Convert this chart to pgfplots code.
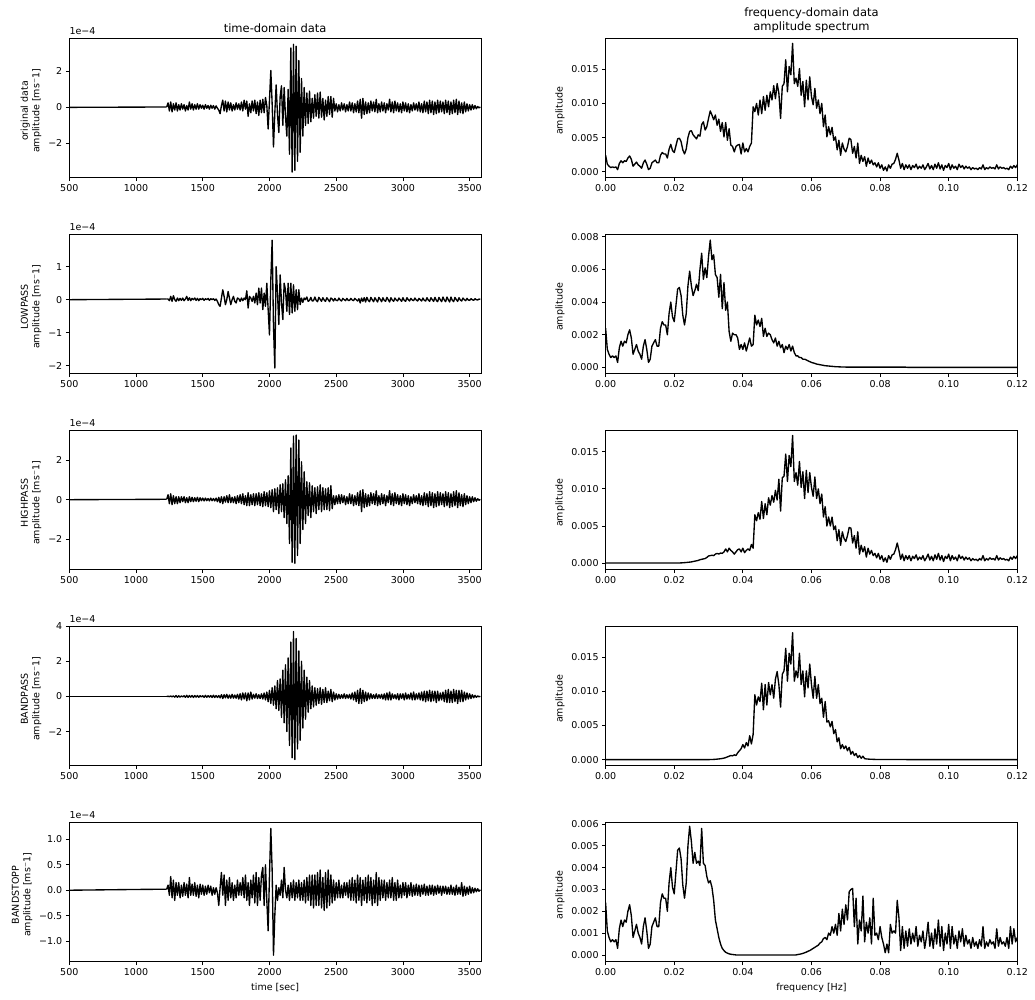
\documentclass[border=0pt]{standalone}
\usepackage{pgfplots}
\usepackage{pgfplotstable}
\pgfplotsset{compat=1.18}
\usepackage{fontspec}
\setmainfont{DejaVu Sans}

% ---------------- time-domain data (units 1e-4 m/s), samples every 10 s from 1230 s
\pgfplotstableread[row sep=\\]{
y\\
0.02\\0.25\\-0.2\\0.3\\-0.25\\0.2\\-0.15\\0.25\\-0.2\\0.15\\
-0.15\\0.2\\-0.1\\0.15\\-0.2\\0.1\\-0.15\\0.3\\-0.1\\0.2\\
-0.15\\0.15\\-0.1\\0.2\\-0.1\\0.15\\-0.05\\0.12\\-0.1\\0.15\\
-0.05\\0.1\\-0.1\\0.12\\-0.05\\0.1\\-0.1\\0.08\\-0.05\\-0.15\\
-0.35\\0.1\\0.4\\-0.2\\0.35\\-0.25\\0.3\\-0.15\\0.25\\-0.2\\
0.15\\-0.15\\0.25\\-0.1\\0.2\\-0.15\\0.3\\-0.2\\0.4\\-0.1\\
0.35\\-0.5\\0.2\\-0.3\\0.35\\-0.2\\0.4\\-0.35\\0.3\\-0.45\\
0.4\\-0.3\\0.45\\-0.3\\0.55\\0.1\\-1.2\\0.4\\2.05\\0.2\\
-2.2\\-0.3\\1.25\\-0.4\\-1.4\\0.6\\1.2\\-1.0\\1.1\\-0.5\\
-1.6\\1.0\\-2.6\\3.3\\-3.6\\3.5\\-3.5\\3.4\\-3.0\\2.6\\
-2.5\\1.6\\-1.6\\1.1\\-1.0\\0.8\\-0.9\\0.9\\-0.8\\0.5\\
-0.6\\0.7\\-0.5\\0.8\\-0.6\\0.85\\-0.55\\0.5\\-0.7\\0.4\\
-0.5\\0.6\\-0.4\\0.6\\-0.55\\0.5\\-0.2\\0.2\\-0.25\\0.15\\
-0.2\\0.25\\-0.15\\0.2\\-0.25\\0.15\\-0.2\\0.3\\-0.2\\0.25\\
-0.3\\0.2\\-0.25\\0.35\\-0.3\\0.45\\-0.6\\0.5\\-0.4\\0.3\\
-0.35\\0.25\\-0.3\\0.35\\-0.2\\0.3\\-0.25\\0.45\\-0.3\\0.2\\
-0.25\\0.3\\-0.2\\0.25\\-0.3\\0.2\\-0.15\\0.45\\-0.25\\0.3\\
-0.3\\0.35\\-0.2\\0.25\\-0.25\\0.2\\-0.3\\0.3\\-0.2\\0.25\\
-0.25\\0.2\\-0.3\\0.15\\-0.2\\0.25\\-0.15\\0.2\\-0.2\\0.3\\
-0.25\\0.2\\-0.3\\0.35\\-0.25\\0.3\\-0.35\\0.4\\-0.3\\0.35\\
-0.4\\0.3\\-0.35\\0.4\\-0.3\\0.35\\-0.25\\0.3\\-0.35\\0.4\\
-0.3\\0.35\\-0.4\\0.3\\-0.35\\0.4\\-0.3\\0.45\\-0.4\\0.35\\
-0.3\\0.25\\-0.35\\0.3\\-0.25\\0.2\\-0.2\\0.15\\-0.15\\0.15\\
-0.1\\0.1\\-0.08\\0.05\\-0.03\\0.02\\
}\tOrig

\pgfplotstableread[row sep=\\]{
y\\
0.02\\0.02\\-0.03\\0.1\\-0.05\\0.12\\0.0\\-0.05\\0.05\\-0.03\\
0.04\\-0.02\\0.05\\-0.03\\0.02\\0.1\\-0.02\\0.06\\-0.03\\0.04\\
0.0\\0.05\\-0.02\\0.04\\-0.03\\0.03\\0.0\\0.04\\-0.02\\0.03\\
0.0\\0.04\\-0.02\\0.03\\0.0\\0.03\\-0.02\\0.02\\-0.05\\-0.15\\
-0.2\\0.05\\0.3\\0.1\\-0.15\\0.0\\0.25\\0.05\\-0.15\\0.0\\
0.1\\-0.05\\-0.1\\0.05\\0.03\\-0.05\\0.05\\-0.03\\0.05\\0.0\\
0.27\\-0.25\\0.1\\0.05\\-0.05\\0.1\\-0.1\\0.2\\-0.15\\0.35\\
-0.1\\0.35\\-0.3\\0.2\\-0.2\\0.5\\-0.3\\-1.07\\0.6\\1.8\\
-0.8\\-2.07\\1.0\\0.2\\-0.75\\0.75\\-0.1\\-0.6\\0.5\\0.3\\
-0.35\\0.5\\-0.45\\0.5\\-0.4\\0.45\\-0.35\\0.3\\-0.3\\0.3\\
-0.15\\0.05\\-0.08\\0.05\\0.0\\0.08\\-0.05\\-0.02\\0.07\\-0.04\\
-0.03\\0.08\\-0.02\\-0.06\\0.07\\0.01\\-0.05\\0.06\\-0.01\\-0.05\\
0.06\\0.0\\-0.06\\0.05\\0.02\\-0.04\\0.04\\-0.02\\-0.03\\0.05\\
-0.01\\-0.04\\0.04\\0.0\\-0.03\\0.04\\-0.02\\-0.02\\0.04\\-0.01\\
-0.03\\0.04\\0.0\\-0.04\\0.03\\-0.1\\0.05\\-0.05\\0.06\\-0.07\\
0.07\\-0.02\\-0.06\\0.07\\0.0\\-0.06\\0.06\\-0.01\\-0.07\\0.07\\
0.01\\-0.06\\0.06\\-0.02\\-0.05\\0.07\\0.0\\-0.07\\0.06\\-0.01\\
-0.05\\0.05\\-0.01\\-0.04\\0.05\\0.0\\-0.05\\0.06\\-0.02\\-0.05\\
0.06\\0.0\\-0.04\\0.04\\-0.01\\-0.03\\0.05\\-0.01\\-0.04\\0.04\\
0.0\\-0.04\\0.05\\-0.02\\-0.04\\0.06\\-0.01\\-0.05\\0.06\\0.0\\
-0.05\\0.07\\-0.02\\-0.06\\0.07\\0.0\\-0.06\\0.08\\-0.01\\-0.06\\
0.08\\0.0\\-0.07\\0.08\\-0.02\\-0.06\\0.07\\0.0\\-0.05\\0.06\\
-0.01\\-0.04\\0.05\\0.0\\-0.03\\0.04\\-0.01\\-0.02\\0.03\\0.0\\
-0.02\\0.03\\0.0\\-0.01\\0.02\\0.01\\
}\tLow

\pgfplotstableread[row sep=\\]{
y\\
0.02\\0.25\\-0.2\\0.3\\-0.25\\0.2\\-0.2\\0.15\\-0.2\\0.15\\
-0.15\\0.15\\-0.1\\0.15\\-0.15\\0.1\\-0.15\\0.15\\-0.1\\0.12\\
-0.1\\0.1\\-0.08\\0.12\\-0.1\\0.1\\-0.05\\0.08\\-0.06\\0.08\\
-0.05\\0.06\\-0.06\\0.08\\-0.05\\0.06\\-0.06\\0.08\\-0.1\\0.12\\
-0.15\\0.15\\-0.2\\0.15\\-0.12\\0.2\\-0.15\\0.25\\-0.15\\0.12\\
-0.15\\0.15\\-0.2\\0.2\\-0.15\\0.25\\-0.2\\0.3\\-0.25\\0.2\\
-0.3\\0.35\\-0.3\\0.25\\-0.25\\0.3\\-0.3\\0.3\\-0.25\\0.35\\
-0.3\\0.3\\-0.35\\0.4\\-0.3\\0.35\\-0.35\\0.45\\-0.4\\0.5\\
-0.6\\0.55\\-0.5\\0.6\\-0.7\\0.75\\-0.6\\0.8\\-0.9\\1.0\\
-1.2\\1.2\\-2.2\\2.6\\-3.15\\3.2\\-3.2\\3.25\\-2.8\\3.0\\
-2.2\\1.9\\-1.5\\1.4\\-1.2\\0.9\\-0.8\\0.85\\-0.9\\0.7\\
-0.6\\0.6\\-0.7\\0.65\\-0.5\\0.75\\-0.6\\0.6\\-0.5\\0.55\\
-0.5\\0.6\\-0.55\\0.7\\-0.45\\0.2\\-0.25\\0.2\\-0.2\\0.25\\
-0.2\\0.25\\-0.15\\0.2\\-0.25\\0.15\\-0.2\\0.3\\-0.2\\0.25\\
-0.3\\0.2\\-0.25\\0.35\\-0.3\\0.45\\-0.6\\0.5\\-0.4\\0.3\\
-0.35\\0.25\\-0.3\\0.35\\-0.2\\0.3\\-0.25\\0.45\\-0.3\\0.2\\
-0.25\\0.3\\-0.2\\0.25\\-0.3\\0.2\\-0.15\\0.45\\-0.25\\0.3\\
-0.3\\0.35\\-0.2\\0.25\\-0.25\\0.2\\-0.3\\0.3\\-0.2\\0.25\\
-0.25\\0.2\\-0.3\\0.15\\-0.2\\0.25\\-0.15\\0.2\\-0.2\\0.3\\
-0.25\\0.2\\-0.3\\0.35\\-0.25\\0.3\\-0.35\\0.4\\-0.3\\0.35\\
-0.4\\0.3\\-0.35\\0.4\\-0.3\\0.35\\-0.25\\0.3\\-0.35\\0.4\\
-0.3\\0.35\\-0.4\\0.3\\-0.35\\0.4\\-0.3\\0.45\\-0.4\\0.35\\
-0.3\\0.25\\-0.35\\0.3\\-0.25\\0.2\\-0.2\\0.15\\-0.15\\0.15\\
-0.1\\0.1\\-0.08\\0.05\\-0.03\\0.02\\
}\tHigh

\pgfplotstableread[row sep=\\]{
y\\
0.0\\0.01\\-0.01\\0.02\\-0.02\\0.03\\-0.04\\0.05\\-0.05\\0.04\\
-0.04\\0.03\\-0.03\\0.04\\-0.05\\0.06\\-0.05\\0.05\\-0.04\\0.05\\
-0.06\\0.05\\-0.04\\0.05\\-0.05\\0.04\\-0.03\\0.04\\-0.05\\0.06\\
-0.05\\0.04\\-0.04\\0.05\\-0.06\\0.07\\-0.06\\0.05\\-0.06\\0.05\\
-0.08\\0.1\\-0.12\\0.1\\-0.08\\0.12\\-0.1\\0.08\\-0.1\\0.12\\
-0.1\\0.08\\-0.1\\0.12\\-0.15\\0.15\\-0.2\\0.2\\-0.15\\0.2\\
-0.25\\0.2\\-0.2\\0.25\\-0.15\\0.12\\-0.1\\0.15\\-0.12\\0.1\\
-0.12\\0.15\\-0.15\\0.2\\-0.2\\0.25\\-0.3\\0.35\\-0.4\\0.5\\
-0.5\\0.6\\-0.7\\0.9\\-0.8\\1.0\\-1.2\\1.5\\-1.5\\1.8\\
-2.0\\2.2\\-2.8\\3.1\\-3.5\\3.7\\-3.6\\3.3\\-3.0\\2.6\\
-2.5\\2.0\\-1.8\\1.5\\-1.3\\1.1\\-0.9\\0.9\\-0.7\\0.6\\
-0.6\\0.5\\-0.5\\0.45\\-0.4\\0.5\\-0.45\\0.4\\-0.35\\0.5\\
-0.35\\0.3\\-0.25\\0.4\\-0.3\\0.25\\-0.2\\0.15\\-0.15\\0.12\\
-0.12\\0.1\\-0.1\\0.15\\-0.12\\0.1\\-0.1\\0.12\\-0.15\\0.2\\
-0.2\\0.25\\-0.3\\0.35\\-0.4\\0.45\\-0.4\\0.35\\-0.3\\0.25\\
-0.25\\0.2\\-0.15\\0.15\\-0.12\\0.1\\-0.12\\0.15\\-0.12\\0.1\\
-0.1\\0.12\\-0.15\\0.15\\-0.2\\0.2\\-0.2\\0.25\\-0.2\\0.15\\
-0.12\\0.1\\-0.15\\0.15\\-0.2\\0.15\\-0.12\\0.15\\-0.2\\0.2\\
-0.15\\0.12\\-0.15\\0.2\\-0.2\\0.25\\-0.2\\0.15\\-0.15\\0.2\\
-0.2\\0.25\\-0.25\\0.3\\-0.3\\0.3\\-0.25\\0.35\\-0.3\\0.3\\
-0.25\\0.3\\-0.35\\0.3\\-0.25\\0.2\\-0.2\\0.25\\-0.3\\0.35\\
-0.35\\0.4\\-0.35\\0.3\\-0.35\\0.4\\-0.3\\0.35\\-0.4\\0.35\\
-0.3\\0.35\\-0.3\\0.25\\-0.2\\0.2\\-0.15\\0.15\\-0.12\\0.1\\
-0.08\\0.06\\-0.05\\0.03\\-0.02\\0.01\\
}\tBand

\pgfplotstableread[row sep=\\]{
y\\
0.02\\0.1\\-0.1\\0.27\\-0.15\\0.2\\-0.2\\0.15\\-0.1\\0.15\\
-0.15\\0.1\\-0.12\\0.15\\-0.1\\0.12\\-0.15\\0.25\\-0.1\\0.12\\
-0.1\\0.15\\-0.12\\0.1\\-0.15\\0.12\\-0.08\\0.1\\-0.1\\0.08\\
-0.08\\0.1\\-0.05\\0.08\\-0.1\\0.05\\-0.08\\0.05\\-0.05\\-0.3\\
0.05\\0.35\\-0.1\\0.3\\-0.3\\0.2\\-0.2\\0.25\\-0.15\\0.15\\
-0.2\\0.1\\-0.15\\0.2\\-0.1\\0.15\\-0.1\\0.25\\-0.15\\0.3\\
-0.2\\0.15\\-0.3\\0.2\\-0.15\\0.3\\-0.25\\0.35\\-0.3\\0.25\\
-0.2\\0.3\\0.45\\-0.3\\0.5\\-0.2\\-0.8\\0.3\\1.22\\0.4\\
-1.28\\-0.5\\0.1\\-0.2\\0.05\\-0.1\\0.2\\-0.15\\0.45\\0.0\\
-0.15\\0.1\\-0.2\\0.15\\-0.15\\0.2\\-0.2\\0.15\\-0.15\\0.2\\
-0.2\\0.15\\-0.2\\0.2\\-0.25\\0.25\\-0.2\\0.3\\-0.3\\0.3\\
-0.35\\0.3\\-0.3\\0.35\\-0.3\\0.4\\-0.35\\0.25\\-0.4\\0.35\\
-0.35\\0.4\\-0.3\\0.3\\-0.25\\0.2\\-0.2\\0.15\\-0.15\\0.2\\
-0.15\\0.1\\-0.15\\0.15\\-0.1\\0.15\\-0.15\\0.2\\-0.2\\0.25\\
-0.2\\0.2\\-0.25\\0.3\\-0.2\\0.25\\-0.3\\0.2\\-0.2\\0.25\\
-0.25\\0.3\\-0.2\\0.25\\-0.3\\0.2\\-0.25\\0.35\\-0.3\\0.25\\
-0.2\\0.2\\-0.15\\0.2\\-0.2\\0.15\\-0.15\\0.2\\-0.15\\0.25\\
-0.2\\0.15\\-0.2\\0.2\\-0.15\\0.1\\-0.15\\0.15\\-0.1\\0.15\\
-0.15\\0.1\\-0.1\\0.15\\-0.12\\0.1\\-0.1\\0.12\\-0.1\\0.1\\
-0.12\\0.1\\-0.08\\0.12\\-0.1\\0.08\\-0.1\\0.1\\-0.08\\0.1\\
-0.1\\0.08\\-0.08\\0.1\\-0.06\\0.08\\-0.1\\0.08\\-0.06\\0.08\\
-0.08\\0.06\\-0.08\\0.1\\-0.08\\0.06\\-0.1\\0.1\\-0.08\\0.06\\
-0.08\\0.15\\-0.12\\0.08\\-0.1\\0.06\\-0.08\\0.08\\-0.06\\0.05\\
-0.05\\0.04\\-0.03\\0.03\\-0.02\\0.01\\
}\tStop

% ---------------- amplitude spectra (units 1e-3), every 0.5 mHz from 0 to 120 mHz
\pgfplotstableread[row sep=\\]{
y\\
2.4\\1.1\\0.8\\0.6\\0.7\\0.6\\0.7\\0.3\\1.2\\1.6\\
1.3\\1.6\\1.5\\2.0\\2.3\\1.8\\0.8\\1.1\\1.4\\1.0\\
0.8\\0.5\\1.3\\1.7\\1.1\\0.3\\0.5\\1.3\\1.5\\1.7\\
1.3\\1.3\\2.4\\2.8\\2.6\\2.6\\2.0\\3.3\\4.0\\3.1\\
2.8\\3.8\\4.8\\4.9\\4.4\\3.2\\2.6\\3.3\\5.0\\5.9\\
6.0\\5.4\\5.1\\4.8\\5.4\\5.2\\6.9\\7.3\\6.1\\6.6\\
7.8\\8.9\\8.3\\7.6\\8.3\\6.8\\7.7\\5.9\\7.2\\5.1\\
7.2\\4.6\\6.3\\3.9\\3.7\\2.9\\3.7\\3.9\\4.0\\2.6\\
4.2\\2.9\\3.4\\2.9\\3.7\\4.2\\
9.5\\8.8\\10.0\\8.3\\10.5\\8.5\\11.0\\9.0\\11.2\\9.5\\
11.7\\10.5\\12.6\\10.7\\12.9\\11.5\\7.8\\12.5\\12.9\\16.4\\
11.7\\15.4\\14.2\\18.8\\12.9\\13.7\\12.5\\15.1\\11.2\\13.2\\
9.5\\13.4\\10.5\\13.9\\11.0\\9.8\\12.2\\9.3\\10.5\\8.5\\
10.0\\6.6\\8.3\\5.1\\6.6\\5.4\\6.5\\4.6\\5.1\\3.2\\
4.6\\2.4\\4.2\\3.3\\2.9\\3.7\\4.9\\4.7\\2.7\\3.7\\
2.0\\4.2\\1.2\\2.4\\1.5\\2.2\\0.8\\2.0\\1.2\\1.7\\
1.0\\1.3\\0.7\\1.3\\0.5\\1.0\\0.2\\0.7\\0.1\\1.0\\
0.5\\1.1\\1.2\\1.8\\2.7\\1.7\\0.5\\1.2\\0.3\\1.0\\
0.5\\1.0\\0.3\\0.9\\0.6\\1.1\\0.4\\0.8\\0.5\\1.0\\
0.3\\0.7\\1.2\\0.4\\0.9\\0.3\\1.1\\0.5\\1.3\\0.4\\
1.0\\0.2\\0.9\\0.6\\1.2\\0.3\\1.0\\0.5\\0.8\\0.3\\
1.1\\0.6\\0.9\\0.4\\0.8\\0.5\\0.7\\0.3\\0.6\\0.4\\
0.5\\0.3\\0.6\\0.4\\1.0\\0.3\\0.6\\0.4\\0.7\\0.5\\
0.6\\0.4\\1.0\\0.4\\0.7\\0.5\\0.6\\0.4\\0.5\\0.3\\
0.8\\0.5\\0.9\\0.6\\1.0\\
}\sOrig

\pgfplotstableread[row sep=\\]{
y\\
2.4\\1.1\\0.8\\0.6\\0.7\\0.6\\0.7\\0.3\\1.2\\1.6\\
1.3\\1.6\\1.5\\2.0\\2.3\\1.8\\0.8\\1.1\\1.4\\1.0\\
0.8\\0.5\\1.3\\1.7\\1.1\\0.3\\0.5\\1.3\\1.5\\1.7\\
1.3\\1.3\\2.4\\2.8\\2.6\\2.6\\2.0\\3.3\\4.0\\3.1\\
2.8\\3.8\\4.8\\4.9\\4.4\\3.2\\2.6\\3.3\\5.0\\5.9\\
5.0\\4.4\\4.7\\5.1\\4.7\\6.0\\7.0\\5.4\\6.1\\5.5\\
6.8\\7.8\\6.6\\6.9\\5.7\\5.5\\4.3\\5.7\\3.6\\5.2\\
3.5\\4.0\\2.2\\1.6\\2.1\\2.0\\2.0\\1.8\\1.1\\1.4\\
1.1\\1.5\\1.0\\1.4\\1.8\\1.3\\
1.4\\3.2\\2.6\\2.9\\2.5\\3.0\\1.9\\2.4\\1.9\\2.1\\
2.0\\1.7\\1.5\\1.8\\1.3\\1.6\\1.2\\1.4\\0.9\\1.3\\
1.1\\1.4\\1.0\\1.3\\0.9\\0.7\\0.7\\0.6\\0.6\\0.5\\
0.5\\0.45\\0.4\\0.35\\0.3\\0.27\\0.24\\0.2\\0.18\\0.16\\
0.14\\0.12\\0.1\\0.09\\0.08\\0.07\\0.06\\0.05\\0.04\\0.035\\
0.03\\0.025\\0.02\\0.02\\0.015\\
0.01\\0.01\\0.01\\0.01\\0.01\\0.01\\0.01\\0.01\\0.01\\0.01\\
0.01\\0.01\\0.01\\0.01\\0.01\\0.01\\0.01\\0.01\\0.01\\0.01\\
0.01\\0.01\\0.01\\0.01\\0.01\\0.01\\0.01\\0.01\\0.01\\0.01\\
0.01\\0.01\\0.01\\0.01\\0.01\\
0\\0\\0\\0\\0\\0\\0\\0\\0\\0\\
0\\0\\0\\0\\0\\0\\0\\0\\0\\0\\
0\\0\\0\\0\\0\\0\\0\\0\\0\\0\\
0\\0\\0\\0\\0\\0\\0\\0\\0\\0\\
0\\0\\0\\0\\0\\0\\0\\0\\0\\0\\
0\\0\\0\\0\\0\\0\\0\\0\\0\\0\\
0\\0\\0\\0\\0\\
}\sLow

\pgfplotstableread[row sep=\\]{
y\\
0\\0\\0\\0\\0\\0\\0\\0\\0\\0\\
0\\0\\0\\0\\0\\0\\0\\0\\0\\0\\
0\\0\\0\\0\\0\\0\\0\\0\\0\\0\\
0\\0\\0\\0\\0\\0\\0\\0\\0\\0\\
0\\0\\0\\0\\
0.02\\0.03\\0.05\\0.07\\0.1\\0.12\\0.15\\0.2\\0.25\\0.3\\
0.35\\0.45\\0.5\\0.55\\0.6\\0.75\\0.95\\1.0\\1.05\\1.0\\
1.2\\1.3\\1.2\\1.35\\1.3\\1.5\\1.9\\1.5\\2.0\\1.7\\
1.5\\1.2\\1.5\\1.8\\1.9\\1.5\\2.0\\1.4\\1.7\\1.9\\
1.7\\2.5\\
2.0\\6.5\\5.7\\6.8\\5.9\\8.3\\6.0\\8.0\\6.5\\8.8\\
7.8\\9.1\\8.2\\9.8\\8.5\\11.3\\7.0\\11.5\\11.7\\14.7\\
11.0\\14.5\\13.0\\17.2\\11.0\\12.2\\10.5\\13.7\\10.2\\12.3\\
8.7\\12.5\\9.5\\12.2\\10.2\\9.0\\11.6\\8.7\\10.0\\8.0\\
9.3\\6.2\\7.6\\5.0\\6.2\\5.0\\6.2\\4.5\\5.0\\3.0\\
4.5\\2.4\\4.2\\3.3\\2.9\\3.7\\4.8\\4.7\\2.7\\3.7\\
2.0\\4.2\\1.2\\2.4\\1.5\\2.2\\0.8\\2.0\\1.2\\1.7\\
1.0\\1.3\\0.7\\1.3\\0.5\\1.0\\0.2\\0.7\\0.1\\1.0\\
0.5\\1.1\\1.2\\1.8\\2.7\\1.7\\0.5\\1.2\\0.3\\1.0\\
0.5\\1.0\\0.3\\0.9\\0.6\\1.1\\0.4\\0.8\\0.5\\1.0\\
0.3\\0.7\\1.2\\0.4\\0.9\\0.3\\1.1\\0.5\\1.3\\0.4\\
1.0\\0.2\\0.9\\0.6\\1.2\\0.3\\1.0\\0.5\\0.8\\0.3\\
1.1\\0.6\\0.9\\0.4\\0.8\\0.5\\0.7\\0.3\\0.6\\0.4\\
0.5\\0.3\\0.6\\0.4\\1.0\\0.3\\0.6\\0.4\\0.7\\0.5\\
0.6\\0.4\\1.0\\0.4\\0.7\\0.5\\0.6\\0.4\\0.5\\0.3\\
0.8\\0.5\\0.9\\0.6\\1.0\\
}\sHigh

\pgfplotstableread[row sep=\\]{
y\\
0\\0\\0\\0\\0\\0\\0\\0\\0\\0\\
0\\0\\0\\0\\0\\0\\0\\0\\0\\0\\
0\\0\\0\\0\\0\\0\\0\\0\\0\\0\\
0\\0\\0\\0\\0\\0\\0\\0\\0\\0\\
0\\0\\0\\0\\0\\0\\0\\0\\0\\0\\
0\\0\\0\\0\\0\\0\\0\\0\\0\\0\\
0\\0.01\\0.02\\0.03\\0.05\\0.07\\
0.1\\0.13\\0.17\\0.22\\0.3\\0.4\\0.5\\0.6\\0.55\\0.7\\
0.6\\1.0\\1.3\\1.6\\2.2\\1.7\\2.5\\2.0\\3.5\\2.3\\
3.7\\9.5\\8.0\\9.2\\8.5\\11.2\\7.3\\11.0\\8.0\\11.3\\
9.5\\11.0\\9.0\\11.8\\12.9\\11.0\\7.7\\12.5\\13.0\\16.3\\
11.5\\15.6\\14.0\\18.6\\11.5\\13.0\\12.0\\15.6\\11.0\\13.0\\
9.2\\13.0\\10.5\\14.0\\11.0\\9.0\\12.2\\9.0\\11.0\\8.2\\
9.0\\6.2\\8.5\\5.5\\5.7\\4.8\\5.6\\3.8\\4.4\\2.6\\
3.2\\1.6\\2.2\\1.6\\2.0\\1.3\\1.8\\0.8\\1.2\\0.6\\
0.9\\0.3\\0.6\\0.2\\0.5\\0.15\\0.1\\0.08\\0.06\\0.05\\
0.04\\0.03\\0.02\\0.02\\0.01\\0.01\\0.01\\0.01\\0.01\\0.01\\
0.01\\0.01\\0.01\\0.01\\0.01\\0.01\\0.01\\0.01\\0.01\\0.01\\
0\\0\\0\\0\\0\\0\\0\\0\\0\\0\\
0\\0\\0\\0\\0\\0\\0\\0\\0\\0\\
0\\0\\0\\0\\0\\0\\0\\0\\0\\0\\
0\\0\\0\\0\\0\\0\\0\\0\\0\\0\\
0\\0\\0\\0\\0\\0\\0\\0\\0\\0\\
0\\0\\0\\0\\0\\0\\0\\0\\0\\0\\
0\\0\\0\\0\\0\\
}\sBand

\pgfplotstableread[row sep=\\]{
y\\
2.4\\1.1\\0.8\\0.6\\0.7\\0.6\\0.7\\0.3\\1.2\\1.6\\
1.3\\1.6\\1.5\\2.0\\2.3\\1.8\\0.8\\1.1\\1.4\\1.0\\
0.8\\0.5\\1.3\\1.7\\1.1\\0.3\\0.5\\1.3\\1.5\\1.7\\
1.3\\1.3\\2.4\\2.8\\2.6\\2.6\\2.0\\3.3\\4.0\\3.1\\
2.8\\3.8\\4.8\\4.9\\4.4\\3.2\\2.6\\3.3\\5.0\\5.9\\
5.2\\4.2\\4.7\\4.2\\4.3\\4.1\\5.8\\4.2\\4.1\\3.6\\
3.3\\3.4\\3.1\\2.5\\1.6\\1.2\\0.8\\0.5\\0.3\\0.2\\
0.12\\0.08\\0.05\\0.03\\0.02\\0.01\\0\\0\\0\\0\\
0\\0\\0\\0\\0\\0\\
0\\0\\0\\0\\0\\0\\0\\0\\0\\0\\
0\\0\\0\\0\\0\\0\\0\\0\\0\\0\\
0\\0\\0\\0\\0\\0\\
0.02\\0.03\\0.05\\0.07\\0.1\\0.13\\0.17\\0.2\\0.25\\0.3\\
0.35\\0.4\\0.45\\0.55\\0.6\\0.75\\0.8\\0.7\\1.0\\0.9\\
1.3\\1.0\\1.4\\0.9\\1.9\\1.1\\2.1\\1.4\\2.3\\1.6\\
2.9\\3.0\\3.05\\1.3\\2.6\\0.5\\1.6\\1.1\\2.7\\0.6\\
1.5\\1.0\\1.7\\0.5\\2.6\\0.9\\1.0\\0.7\\1.3\\0.8\\
0.5\\0.1\\0.5\\0.1\\1.4\\1.0\\1.1\\1.0\\2.5\\1.7\\
0.2\\1.3\\0.3\\1.1\\
0.4\\1.2\\0.5\\1.0\\0.6\\1.3\\0.4\\0.9\\0.6\\1.1\\
0.3\\0.8\\1.5\\0.4\\1.0\\0.3\\1.2\\0.5\\1.6\\0.4\\
1.3\\0.2\\1.0\\0.5\\1.4\\0.3\\1.3\\0.5\\0.9\\0.3\\
1.1\\0.6\\1.2\\0.4\\0.9\\0.5\\0.7\\0.3\\0.8\\0.4\\
0.6\\0.3\\0.7\\0.4\\1.3\\0.3\\0.6\\0.4\\0.7\\0.5\\
0.6\\0.3\\1.2\\0.4\\0.8\\0.5\\0.6\\0.4\\0.8\\0.3\\
1.3\\0.5\\1.2\\0.6\\0.8\\
}\sStop

\pgfplotsset{
  base/.style={
    scale only axis, width=411.7pt, height=139.4pt, anchor=south west,
    axis line style={black, line width=0.8pt},
    tick pos=left, tick align=outside, major tick length=3.5pt,
    tick style={black, line width=0.8pt},
    ticklabel style={font=\fontsize{9.5}{11}\selectfont},
    label style={font=\fontsize{9.5}{11.5}\selectfont},
    ylabel style={align=center, xshift=-3pt},
    every axis plot post/.append style={draw=black, line width=1.35pt, line join=round, mark=none},
  },
  tleft/.style={base, xmin=500, xmax=3585,
    xtick={500,1000,1500,2000,2500,3000,3500},
    xticklabels={500,1000,1500,2000,2500,3000,3500}},
  fright/.style={base, xmin=0, xmax=120,
    xtick={0,20,40,60,80,100,120},
    xticklabels={0.00,0.02,0.04,0.06,0.08,0.10,0.12},
    ylabel={amplitude}},
}

\begin{document}
\begin{tikzpicture}
\useasboundingbox (0,0) rectangle (1035pt,1000pt);

% ---------- row 1
\begin{axis}[tleft, at={(69.3pt,822.3pt)}, ymin=-3.91, ymax=3.84,
  ytick={-2,0,2}, yticklabels={−2,0,2},
  ylabel={original data\\amplitude [ms⁻1]}]
\addplot coordinates {(500,0) (1230,0.02)};
\addplot table[x expr=\coordindex*10+1230, y=y] {\tOrig};
\end{axis}
\begin{axis}[fright, at={(605.6pt,822.3pt)}, ymin=-0.88, ymax=19.54,
  ytick={0,5,10,15}, yticklabels={0.000,0.005,0.010,0.015}]
\addplot table[x expr=\coordindex*0.5, y=y] {\sOrig};
\end{axis}

% ---------- row 2
\begin{axis}[tleft, at={(69.3pt,626.3pt)}, ymin=-2.24, ymax=1.98,
  ytick={-2,-1,0,1}, yticklabels={−2,−1,0,1},
  ylabel={LOWPASS\\amplitude [ms⁻1]}]
\addplot coordinates {(500,0) (1230,0.02)};
\addplot table[x expr=\coordindex*10+1230, y=y] {\tLow};
\end{axis}
\begin{axis}[fright, at={(605.6pt,626.3pt)}, ymin=-0.39, ymax=8.16,
  ytick={0,2,4,6,8}, yticklabels={0.000,0.002,0.004,0.006,0.008}]
\addplot table[x expr=\coordindex*0.5, y=y] {\sLow};
\end{axis}

% ---------- row 3
\begin{axis}[tleft, at={(69.3pt,430.3pt)}, ymin=-3.52, ymax=3.49,
  ytick={-2,0,2}, yticklabels={−2,0,2},
  ylabel={HIGHPASS\\amplitude [ms⁻1]}]
\addplot coordinates {(500,0) (1230,0.02)};
\addplot table[x expr=\coordindex*10+1230, y=y] {\tHigh};
\end{axis}
\begin{axis}[fright, at={(605.6pt,430.3pt)}, ymin=-0.9, ymax=17.9,
  ytick={0,5,10,15}, yticklabels={0.000,0.005,0.010,0.015}]
\addplot table[x expr=\coordindex*0.5, y=y] {\sHigh};
\end{axis}

% ---------- row 4
\begin{axis}[tleft, at={(69.3pt,234.3pt)}, ymin=-3.95, ymax=4.0,
  ytick={-2,0,2,4}, yticklabels={−2,0,2,4},
  ylabel={BANDPASS\\amplitude [ms⁻1]}]
\addplot coordinates {(500,0) (1230,0)};
\addplot table[x expr=\coordindex*10+1230, y=y] {\tBand};
\end{axis}
\begin{axis}[fright, at={(605.6pt,234.3pt)}, ymin=-0.89, ymax=19.54,
  ytick={0,5,10,15}, yticklabels={0.000,0.005,0.010,0.015}]
\addplot table[x expr=\coordindex*0.5, y=y] {\sBand};
\end{axis}

% ---------- row 5
\begin{axis}[tleft, at={(69.3pt,38.3pt)}, ymin=-1.41, ymax=1.34,
  ytick={-1,-0.5,0,0.5,1}, yticklabels={−1.0,−0.5,0.0,0.5,1.0},
  ylabel={BANDSTOPP\\amplitude [ms⁻1]}, xlabel={time [sec]}]
\addplot coordinates {(500,0) (1000,0.015) (1230,0.02)};
\addplot table[x expr=\coordindex*10+1230, y=y] {\tStop};
\end{axis}
\begin{axis}[fright, at={(605.6pt,38.3pt)}, ymin=-0.31, ymax=6.08,
  ytick={0,1,2,3,4,5,6}, yticklabels={0.000,0.001,0.002,0.003,0.004,0.005,0.006},
  xlabel={frequency [Hz]}]
\addplot table[x expr=\coordindex*0.5, y=y] {\sStop};
\end{axis}

% ---------- titles and offset texts
\node[font=\fontsize{11.5}{13}\selectfont, anchor=base] at (275.15pt,967.7pt) {time-domain data};
\node[font=\fontsize{11.5}{13}\selectfont, anchor=base] at (811.45pt,983pt) {frequency-domain data};
\node[font=\fontsize{11.5}{13}\selectfont, anchor=base] at (811.45pt,969pt) {amplitude spectrum};
\foreach \yy in {961.7,765.7,569.7,373.7,177.7}{
  \node[font=\fontsize{9.5}{11}\selectfont, anchor=base west, inner sep=0pt] at (69.3pt,\yy pt+3.6pt) {1e−4};
}
\end{tikzpicture}
\end{document}
